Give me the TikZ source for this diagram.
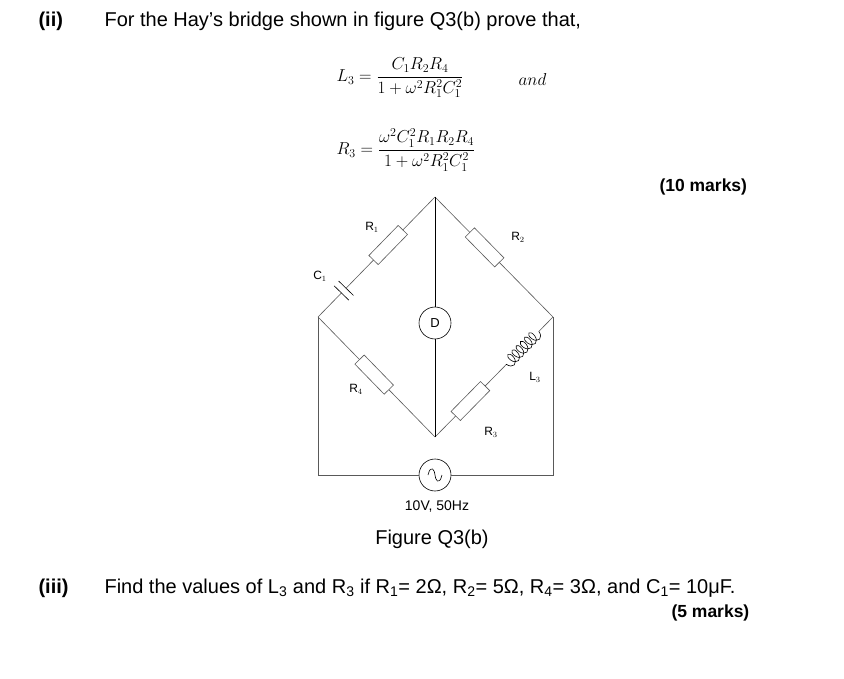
\documentclass[tikz,border=0pt]{standalone}
\usepackage{fontspec}
\setmainfont{Liberation Sans}
\usepackage{amsmath}
\usetikzlibrary{decorations.pathmorphing,calc}
\begin{document}
\begin{tikzpicture}[x=1pt,y=-1pt,
    wire/.style={gray!70!black, semithick},
    res/.style={draw, fill=white, rectangle, minimum width=42pt, minimum height=13pt, inner sep=0pt, sloped, semithick},
    capac/.style={fill=white, rectangle, minimum width=6pt, minimum height=20pt, inner sep=0pt, sloped},
    meter/.style={draw, circle, fill=white, minimum size=32pt, inner sep=0pt, semithick},
    lbl/.style={font=\fontsize{12}{14}\selectfont},
    txt/.style={font=\fontsize{20}{24}\selectfont, anchor=base west}]
    \useasboundingbox (0,0) rectangle (844,679);
    % text
    \node[txt,font=\fontsize{20}{24}\selectfont\bfseries] (q2) at (35,27) {(ii)};
    \node[txt] (t2) at (101,27) {For the Hay’s bridge shown in figure Q3(b) prove that,};
    \node[font=\fontsize{18}{20}\selectfont, anchor=west] (eqL) at (333,78)
        {$L_3=\dfrac{C_1R_2R_4}{1+\omega^2R_1^2C_1^2}$};
    \node[font=\fontsize{17}{20}\selectfont, anchor=west] (and) at (515,80) {$and$};
    \node[font=\fontsize{18}{20}\selectfont, anchor=west] (eqR) at (333,150)
        {$R_3=\dfrac{\omega^2C_1^2R_1R_2R_4}{1+\omega^2R_1^2C_1^2}$};
    \node[txt,font=\fontsize{17.5}{20}\selectfont\bfseries] (m1) at (656,192) {(10 marks)};
    % bridge corners
    \coordinate (top) at (435,197);
    \coordinate (lft) at (318,317);
    \coordinate (rgt) at (553,317);
    \coordinate (bot) at (435,437);
    \coordinate (bl) at (318,475);
    \coordinate (br) at (553,475);
    \node[meter] (D) at (435,323) {\fontsize{13}{14}\selectfont D};
    \node[meter] (S) at (435,475) {};
    \draw[semithick] ([xshift=-7pt]S.center) .. controls ([xshift=-4pt,yshift=12pt]S.center) and ([yshift=4pt]S.center) .. (S.center)
        .. controls ([yshift=-4pt]S.center) and ([xshift=4pt,yshift=-12pt]S.center) .. ([xshift=7pt]S.center);
    % arms
    \draw[wire] (lft) -- node[capac,pos=.22] (C1) {} node[res,pos=.6] (R1) {} (top);
    \draw[semithick] (C1.north west) -- (C1.south west) (C1.north east) -- (C1.south east);
    \draw[wire] (top) -- node[res,pos=.42] (R2) {} (rgt);
    \draw[wire] (lft) -- node[res,pos=.48] (R4) {} (bot);
    \coordinate (l1) at ($(rgt)!.12!(bot)$);
    \coordinate (l2) at ($(rgt)!.4!(bot)$);
    \draw[wire] (rgt) -- (l1);
    \draw[semithick, decorate, decoration={coil,aspect=.6,segment length=6pt,amplitude=6pt}] (l1) -- (l2);
    \draw[wire] (l2) -- node[res,pos=.5] (R3) {} (bot);
    \draw[semithick] (top) -- (D) -- (bot);
    \draw[wire] (lft) -- (bl) -- (S) -- (br) -- (rgt);
    % labels
    \node[lbl] at (372,227) {R$_1$};
    \node[lbl] at (518,237) {R$_2$};
    \node[lbl] at (320,276) {C$_1$};
    \node[lbl] at (356,389) {R$_4$};
    \node[lbl] at (491,432) {R$_3$};
    \node[lbl] at (535,377) {L$_3$};
    \node[font=\fontsize{14}{16}\selectfont] at (437,507) {10V, 50Hz};
    \node[font=\fontsize{20}{24}\selectfont] (cap) at (432,539) {Figure Q3(b)};
    \node[txt,font=\fontsize{20}{24}\selectfont\bfseries] (q3) at (35,593) {(iii)};
    \node[txt] (t3) at (101,593) {Find the values of L\textsubscript{3} and R\textsubscript{3} if R\textsubscript{1}= 2Ω, R\textsubscript{2}= 5Ω, R\textsubscript{4}= 3Ω, and C\textsubscript{1}= 10μF.};
    \node[txt,font=\fontsize{17.5}{20}\selectfont\bfseries] (m2) at (668,617) {(5 marks)};
\end{tikzpicture}
\end{document}
